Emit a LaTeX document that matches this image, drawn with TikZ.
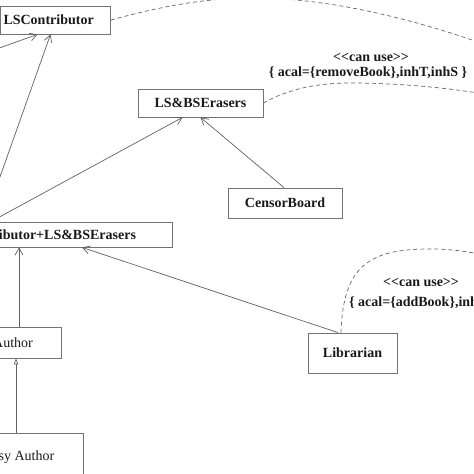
\documentclass[tikz,border=0pt]{standalone}
\usepackage{fontspec}
\setmainfont{Liberation Serif}
\usetikzlibrary{arrows.meta}
\begin{document}
\begin{tikzpicture}[x=1pt,y=-1pt,
  cls/.style={draw=black!55, line width=0.8pt, rectangle, inner sep=0pt,
    font=\fontsize{14}{16}\selectfont\bfseries, text=black!90},
  plaincls/.style={draw=black!55, line width=0.8pt, rectangle, inner sep=0pt,
    font=\fontsize{14}{16}\selectfont, text=black!90},
  assoc/.style={draw=black!62, line width=0.7pt, -{Straight Barb[length=7pt,width=8pt]}},
  gen/.style={draw=black!62, line width=0.7pt, -{Triangle[open,length=6pt,width=4.5pt]}},
  dep/.style={draw=black!60, line width=0.7pt, dash pattern=on 4pt off 3pt},
  lab/.style={font=\fontsize{14}{16}\selectfont\bfseries, inner sep=0pt, text=black!90}]
\useasboundingbox (0,0) rectangle (474,474);
\clip (0,0) rectangle (474,474);

% classes
\node[cls, minimum width=110pt, minimum height=28pt, text width=104pt, align=left, inner xsep=3pt] (lsc) at (55.5,20) {LSContributor};
\node[cls, minimum width=125pt, minimum height=28pt] (lsb) at (200.5,103) {LS\&BSErasers};
\node[cls, minimum width=114pt, minimum height=30pt] (cb) at (285,203) {CensorBoard};
\node[cls, minimum width=262pt, minimum height=25pt] (cls) at (41,234.5) {LSContributor+LS\&BSErasers};
\node[plaincls, minimum width=96pt, minimum height=31pt] (au) at (13,342.5) {Author};
\node[plaincls, minimum width=128pt, minimum height=48pt] (ea) at (19,457) {Easy Author};
\node[cls, minimum width=89pt, minimum height=40pt] (lib) at (352.5,353) {Librarian};

% off-picture ends
\coordinate (src1) at (-40,62);
\coordinate (src2) at (-5,191);
\coordinate (d1) at (500,50);
\coordinate (d2) at (490,95);
\coordinate (d3) at (490,256);

% associations
\draw[assoc] (src1) -- ([xshift=-18pt]lsc.south);
\draw[assoc] (src2) -- ([xshift=-5pt]lsc.south);
\draw[assoc] ([xshift=-50pt]cls.north) -- ([xshift=-18pt]lsb.south);
\draw[assoc] ([xshift=-1pt]cb.north) -- (lsb.south);
\draw[assoc] ([xshift=-14.5pt]lib.north) -- ([xshift=41pt]cls.south);
\draw[assoc] ([xshift=6pt]au.north) -- ([xshift=-22pt]cls.south);
\draw[gen] ([xshift=-3pt]ea.north) -- ([xshift=3pt]au.south);

% dependencies
\draw[dep] (lsc.east) .. controls (170,4) and (210,-2) .. (255,-2)
  .. controls (330,-2) and (420,20) .. (d1);
\draw[dep] (lsb.east) .. controls (290,88) and (320,83) .. (350,83)
  .. controls (400,83) and (450,88) .. (d2);
\draw[dep] ([xshift=-11.5pt]lib.north) .. controls (343,265) and (370,249) .. (430,249)
  .. controls (450,249) and (465,251) .. (d3);

% labels
\node[lab] (l1a) at (371,58) {<\kern0pt<can use>\kern0pt>};
\node[lab] (l1b) at (368,73) {\{ acal=\{removeBook\},inhT,inhS \}};
\node[lab] (l2a) at (421,283) {<\kern0pt<can use>\kern0pt>};
\node[lab, anchor=west] (l2b) at (349,303) {\{ acal=\{addBook\},inhT,inhS \}};
\end{tikzpicture}
\end{document}
